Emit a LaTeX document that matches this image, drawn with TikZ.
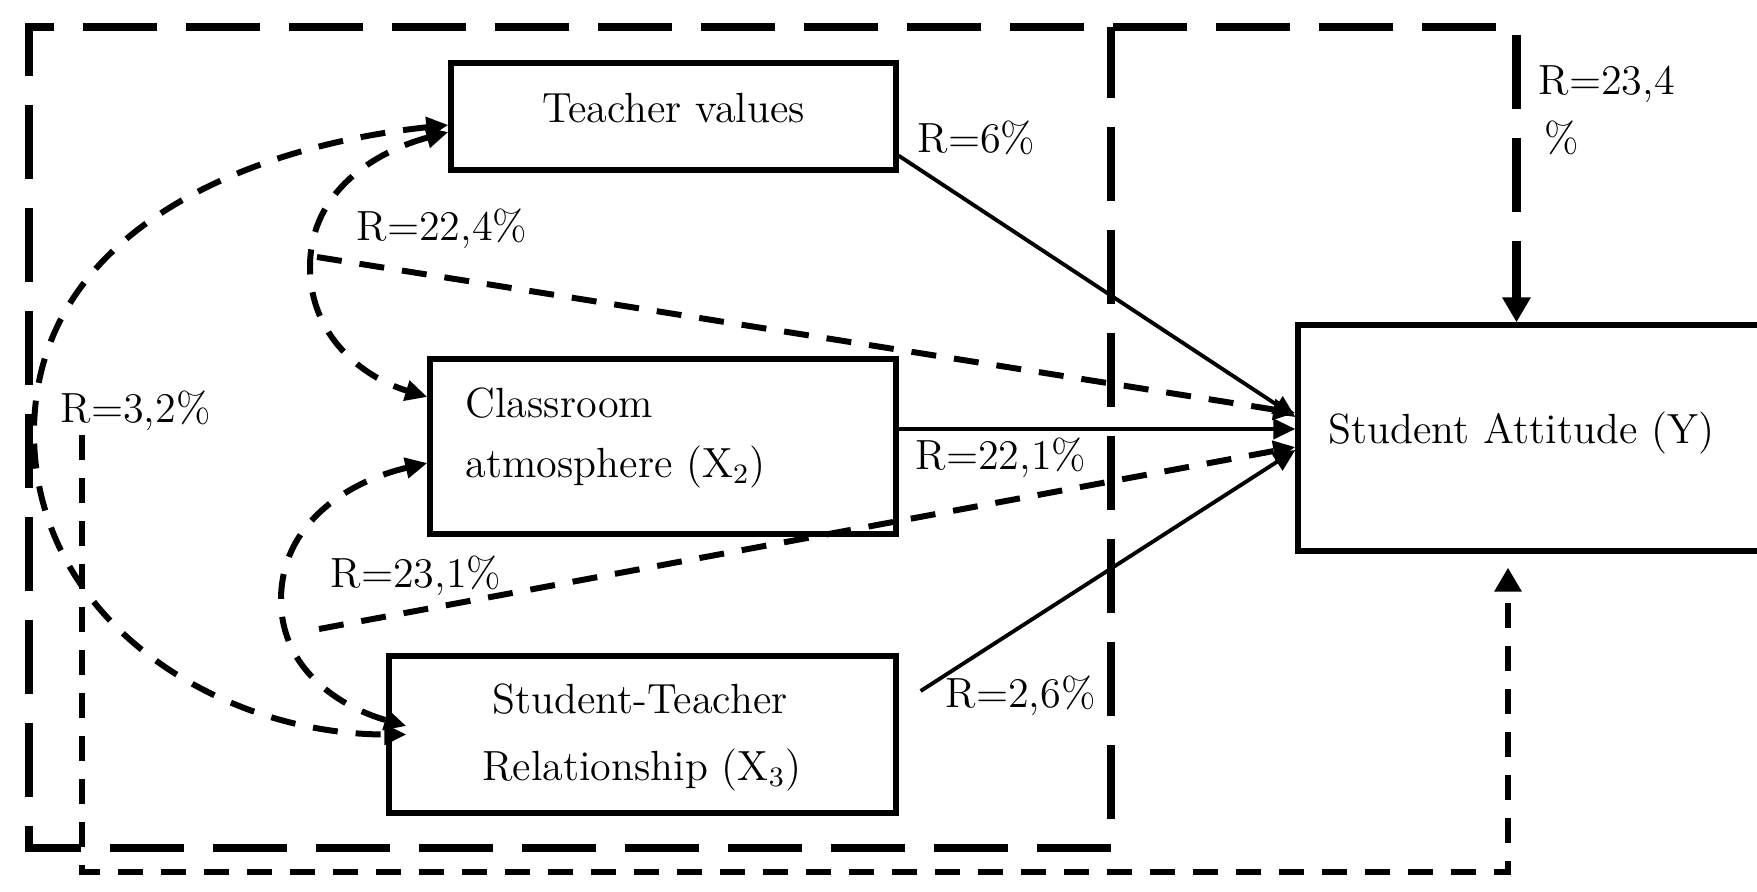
\documentclass[tikz,border=0pt]{standalone}
\usetikzlibrary{arrows.meta}
\tikzset{
  varbox/.style={draw,line width=1.5pt,inner sep=0pt},
  lbl/.style={inner sep=0pt,font=\fontsize{12pt}{14pt}\selectfont},
  outerframe/.style={line width=2.5pt,dash pattern=on 0.74cm off 0.29cm},
  corr/.style={line width=1.7pt,dash pattern=on 0.25cm off 0.18cm},
  onetip/.style={-{Triangle[length=0.22cm,width=0.2cm]}},
  twotips/.style={{Triangle[length=0.22cm,width=0.2cm]}-{Triangle[length=0.22cm,width=0.2cm]}},
  causal/.style={line width=1.1pt,onetip}
}
\begin{document}
\begin{tikzpicture}
\useasboundingbox (0,0) rectangle (17.57,-8.92);
%% variables
\node[varbox,minimum width=4.45cm,minimum height=1.07cm] (tv) at (6.735,-1.165) {};
\node[varbox,minimum width=4.66cm,minimum height=1.75cm] (ca) at (6.63,-4.465) {};
\node[varbox,minimum width=5.07cm,minimum height=1.57cm] (str) at (6.425,-7.345) {};
\node[varbox,minimum width=5.02cm,minimum height=2.26cm] (sa) at (15.49,-4.38) {};
%% box texts
\node[lbl,anchor=base] (tvText) at (6.735,-1.22) {Teacher values};
\node[lbl,anchor=base west] (caTop) at (4.65,-4.17) {Classroom};
\node[lbl,anchor=base west] (caBot) at (4.65,-4.77) {atmosphere (X\textsubscript{2})};
\node[lbl,anchor=base] (strTop) at (6.40,-7.13) {Student-Teacher};
\node[lbl,anchor=base] (strBot) at (6.42,-7.80) {Relationship (X\textsubscript{3})};
\node[lbl,anchor=base west] (saText) at (13.28,-4.43) {Student Attitude (Y)};
%% dashed frames
\draw[outerframe] (14.96,-0.27) -- (0.29,-0.27) -- (0.29,-8.48) -- (11.11,-8.48) -- (11.11,-0.27);
\coordinate (topIn) at (15.165,-0.35);
\draw[outerframe,-{Triangle[length=0.25cm,width=0.27cm]}] (topIn) -- (topIn |- sa.north);
\coordinate (loopTop) at (0.82,-4.35);
\coordinate (loopCorner) at (15.08,-8.72);
\draw[corr,-{Triangle[length=0.24cm,width=0.26cm]},shorten >=0.14cm] (loopTop) |- (loopCorner) -- (loopCorner |- sa.south);
%% direct paths to Y
\draw[causal] ([yshift=0.17cm]tv.south east) -- ([yshift=0.21cm]sa.west);
\coordinate (caOut) at ([yshift=0.175cm]ca.east);
\draw[causal] (caOut) -- (caOut -| sa.west);
\draw[causal] ([xshift=0.22cm,yshift=0.435cm]str.east) -- ([yshift=-0.12cm]sa.west);
%% joint paths to Y
\coordinate (jointTop) at (3.17,-2.57);
\coordinate (jointBot) at (3.19,-6.29);
\draw[corr,onetip] (jointTop) -- ([yshift=0.25cm]sa.west);
\draw[corr,onetip] (jointBot) -- ([yshift=-0.09cm]sa.west);
%% correlations
\coordinate (bendA) at (0.34,-4.33);
\coordinate (bendB) at (3.10,-2.67);
\coordinate (bendC) at (2.81,-6.00);
\draw[corr,twotips] ([yshift=-0.085cm]tv.west) to[out=186,in=90] (bendA) to[out=270,in=180] ([xshift=0.2cm]str.west);
\draw[corr,twotips] ([yshift=-0.155cm]tv.west) to[out=195,in=90] (bendB) to[out=270,in=163] ([yshift=0.495cm]ca.west);
\draw[corr,twotips] ([yshift=-0.165cm]ca.west) to[out=193,in=90] (bendC) to[out=270,in=164] ([xshift=0.2cm,yshift=0.085cm]str.west);
%% labels
\node[lbl,anchor=base west] (rTv) at (9.17,-1.52) {R=6\%};
\node[lbl,anchor=base west] (rTop) at (15.38,-0.94) {R=23,4};
\node[lbl,anchor=base west] (rTopPct) at (15.44,-1.52) {\%};
\node[lbl,anchor=base west] (rTvCa) at (3.56,-2.40) {R=22,4\%};
\node[lbl,anchor=base west] (rOuter) at (0.60,-4.22) {R=3,2\%};
\node[lbl,anchor=base west] (rCa) at (9.15,-4.69) {R=22,1\%};
\node[lbl,anchor=base west] (rCaStr) at (3.30,-5.87) {R=23,1\%};
\node[lbl,anchor=base west] (rStr) at (9.45,-7.07) {R=2,6\%};
\end{tikzpicture}
\end{document}
